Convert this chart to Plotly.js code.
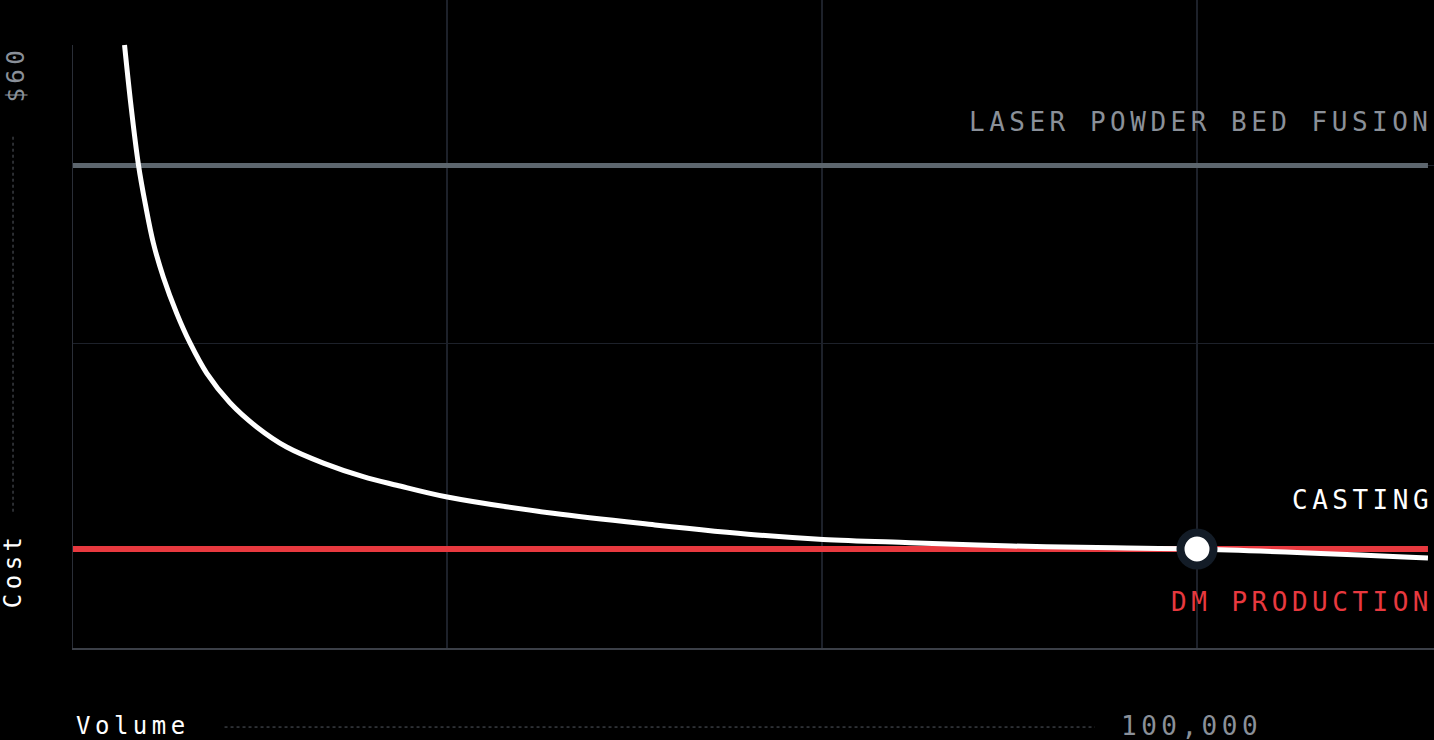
<!DOCTYPE html>
<html>
<head>
<meta charset="utf-8">
<script src="https://cdn.plot.ly/plotly-3.0.1.min.js"></script>
<style>
  html, body { margin: 0; padding: 0; background: #000; }
  #chart { width: 1434px; height: 740px; }
  .annotation-text { letter-spacing: 4.5px; }
</style>
</head>
<body>
<div id="chart"></div>
<script>
// casting cost vs volume
var volume = [4670, 5240, 5910, 6530, 7230, 8120, 9310, 10490, 11970, 14040, 16420,
              19080, 22340, 25890, 28860, 33240, 42760, 51820, 60890, 66760, 74490,
              83560, 92620, 100000, 120530];
var castingCost = [60.0, 54.0, 48.06, 44.1, 40.3, 36.9, 33.3, 30.35, 27.35, 24.4, 22.0,
                   20.0, 18.4, 17.05, 16.2, 15.05, 13.4, 12.25, 11.25, 10.8, 10.48,
                   10.15, 9.97, 9.85, 8.96];
var flatVolume = [0, 120530];
var lpbfCost = [48, 48];
var dmCost = [9.85, 9.85];
var breakEven = {volume: [100000], cost: [9.85]};
var gridVolumes = [33333.3, 66666.7, 100000];
var gridCosts = [30.3, 48];

var mono = 'DejaVu Sans Mono, Liberation Mono, monospace';
var grey = '#8a9099';

var data = [
  {x: flatVolume, y: lpbfCost, mode: 'lines', line: {color: '#5d666e', width: 5}, hoverinfo: 'skip'},
  {x: flatVolume, y: dmCost, mode: 'lines', line: {color: '#e8393f', width: 6}, hoverinfo: 'skip'},
  {x: volume, y: castingCost, mode: 'lines', line: {color: '#ffffff', width: 5, shape: 'spline', smoothing: 1}, hoverinfo: 'skip'},
  {x: breakEven.volume, y: breakEven.cost, mode: 'markers',
   marker: {size: 33, color: '#ffffff', line: {color: '#131c27', width: 8}}, hoverinfo: 'skip'}
];

var layout = {
  width: 1434, height: 740,
  margin: {l: 72, r: 0, t: 0, b: 92},
  paper_bgcolor: '#000', plot_bgcolor: '#000',
  showlegend: false,
  xaxis: {
    range: [0, 121067], tickvals: gridVolumes, showticklabels: false,
    showgrid: true, gridcolor: '#1d212a', gridwidth: 1.5,
    showline: true, linecolor: '#3b3f47', linewidth: 2,
    zeroline: false, fixedrange: true
  },
  yaxis: {
    range: [0, 64.48], tickvals: gridCosts, showticklabels: false,
    showgrid: true, gridcolor: '#1d212a', gridwidth: 1.5,
    showline: false, zeroline: false, fixedrange: true
  },
  shapes: [
    // left axis stops at the $60 mark
    {type: 'line', xref: 'x', yref: 'y', x0: 0, x1: 0, y0: 0, y1: 60, line: {color: '#2a2e37', width: 2}},
    {type: 'line', xref: 'paper', yref: 'paper', x0: -0.0433, x1: -0.0433, y0: 0.789, y1: 0.208,
     line: {color: '#555a62', width: 1, dash: 'dot'}},
    {type: 'line', xref: 'paper', yref: 'paper', x0: 0.112, x1: 0.751, y0: -0.122, y1: -0.122,
     line: {color: '#555a62', width: 1, dash: 'dot'}}
  ],
  annotations: [
    {text: 'LASER POWDER BED FUSION', xref: 'paper', yref: 'y', x: 1, y: 52.3, xanchor: 'right', yanchor: 'middle',
     showarrow: false, borderpad: 0, font: {family: mono, size: 26, color: grey}},
    {text: 'CASTING', xref: 'paper', yref: 'y', x: 1, y: 14.7, xanchor: 'right', yanchor: 'middle',
     showarrow: false, borderpad: 0, font: {family: mono, size: 26, color: '#ffffff'}},
    {text: 'DM PRODUCTION', xref: 'paper', yref: 'y', x: 1, y: 4.58, xanchor: 'right', yanchor: 'middle',
     showarrow: false, borderpad: 0, font: {family: mono, size: 26, color: '#e8393f'}},
    {text: '$60', xref: 'paper', yref: 'paper', x: -0.0418, y: 0.885, xanchor: 'center', yanchor: 'middle', textangle: -90,
     showarrow: false, borderpad: 0, font: {family: mono, size: 24, color: grey}},
    {text: 'Cost', xref: 'paper', yref: 'paper', x: -0.0433, y: 0.12, xanchor: 'center', yanchor: 'middle', textangle: -90,
     showarrow: false, borderpad: 0, font: {family: mono, size: 24, color: '#ffffff'}},
    {text: 'Volume', xref: 'paper', yref: 'paper', x: 0.002, y: -0.12, xanchor: 'left', yanchor: 'middle',
     showarrow: false, borderpad: 0, font: {family: mono, size: 24, color: '#ffffff'}},
    {text: '100,000', xref: 'x', yref: 'paper', x: 99500, y: -0.12, xanchor: 'center', yanchor: 'middle',
     showarrow: false, borderpad: 0, font: {family: mono, size: 26, color: grey}}
  ]
};

Plotly.newPlot('chart', data, layout, {displayModeBar: false, staticPlot: true});
</script>
</body>
</html>
